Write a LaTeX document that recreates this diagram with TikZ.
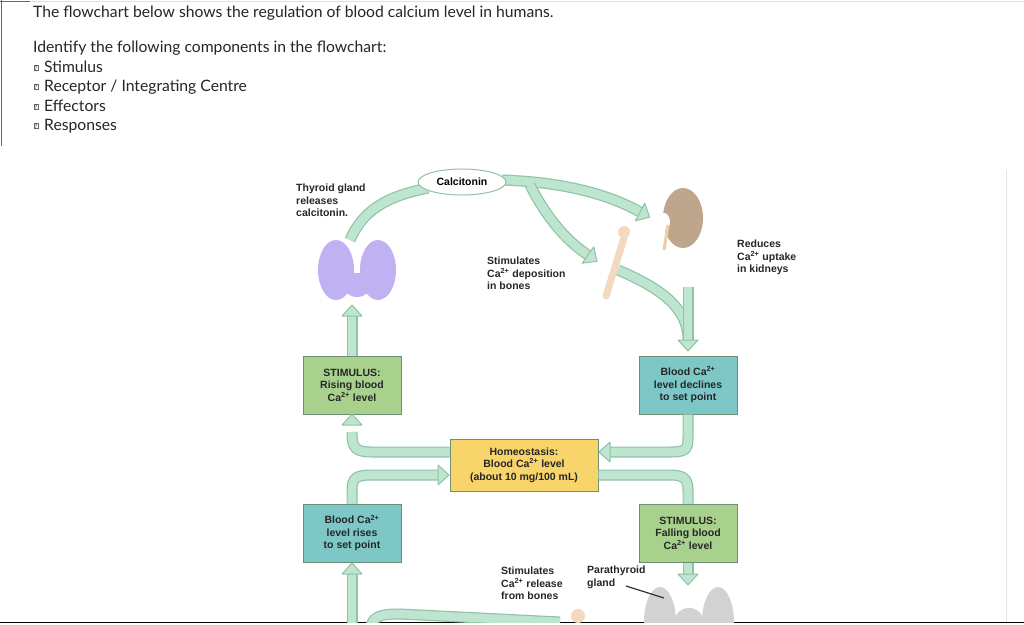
\documentclass[tikz,border=0pt]{standalone}
\usepackage{fontspec}
\setmainfont{Lato}
\newfontfamily\lab{Liberation Sans}
\usetikzlibrary{shapes.geometric}
\begin{document}
\begin{tikzpicture}[x=1pt,y=-1pt,
  shaft/.style={draw=ashaft,line width=11pt,line cap=butt,line join=round,
    postaction={draw=afill,line width=8.6pt}},
  tipp/.pic={\fill[afill,draw=ashaft,line width=1pt,line join=round] (0,-10)--(11,0)--(0,10)--cycle;},
  box/.style={draw=boxedge,line width=1pt,minimum width=98pt,minimum height=58pt,align=center,
    font=\lab\bfseries\fontsize{10.5}{12.5}\selectfont,text=black!85},
  lbl/.style={font=\lab\bfseries\fontsize{10.5}{12.5}\selectfont,align=left,anchor=north west,text=black!85,inner sep=0pt},
  qt/.style={font=\fontsize{15.7}{18}\selectfont,anchor=north west,inner sep=0pt,text=black!85}]
\definecolor{ashaft}{HTML}{8FC3A4}
\definecolor{afill}{HTML}{BDE5CF}
\definecolor{boxedge}{HTML}{6E8E76}
\definecolor{gbox}{HTML}{A9D18E}
\definecolor{tbox}{HTML}{7DC8C6}
\definecolor{ybox}{HTML}{F8D56B}
\newcommand{\sq}{\textsuperscript{2+}}
\useasboundingbox (0,0) rectangle (1024,624);
\fill[white] (0,0) rectangle (1024,624);
% frame lines
\draw[black!60,line width=1pt] (1.5,0)--(1.5,146);
\draw[black!60,line width=1pt] (0,1)--(30,1);
\draw[black!12,line width=0.8pt] (30,1)--(1024,1);
\draw[black!10,line width=0.8pt] (1006,170)--(1006,622);
\draw[black,line width=1.5pt] (0,622.5)--(1024,622.5);
% question text
\node[qt] (q1) at (33,6) {The flowchart below shows the regulation of blood calcium level in humans.};
\node[qt] (q2) at (33,41) {Identify the following components in the flowchart:};
\foreach \t/\y [count=\i] in {{Stimulus}/61,{Receptor / Integrating Centre}/80,{Effectors}/100,{Responses}/119}{
  \node[qt,draw=black!60,line width=0.4pt,inner sep=0.5pt,font=\fontsize{6}{6}\selectfont] (b\i) at (34,\y+4) {?};
  \node[qt] (i\i) at (44,\y) {\t};
}
\begin{scope}
\clip (280,160) rectangle (1000,622);
% boxes
\node[box,fill=gbox] (rise) at (352,385) {STIMULUS:\\Rising blood\\Ca\sq{} level};
\node[box,fill=tbox] (decl) at (688,385) {Blood Ca\sq\\level declines\\to set point};
\node[box,fill=ybox,minimum width=148pt,minimum height=52pt] (home) at (524,465) {Homeostasis:\\Blood Ca\sq{} level\\(about 10 mg/100 mL)};
\node[box,fill=gbox] (fall) at (688,533) {STIMULUS:\\Falling blood\\Ca\sq{} level};
\node[box,fill=tbox] (rises) at (352,533) {Blood Ca\sq\\level rises\\to set point};
% arrows
\draw[shaft] (rise.north) -- (352,316);
\pic[rotate=90] at (352,316) {tipp};
\draw[shaft] (350,240) .. controls (365,205) and (395,195) .. (428,188);
\draw[shaft] (502,180) .. controls (565,182) and (610,195) .. (640,212);
\pic[rotate=-28] at (640,212) {tipp};
\draw[shaft] (530,185) .. controls (545,215) and (565,240) .. (588,255);
\pic[rotate=-35] at (588,255) {tipp};
\draw[shaft] (618,270) .. controls (665,290) and (688,310) .. (688,340);
\draw[shaft] (688,287) -- (688,340);
\pic[rotate=-90] at (688,340) {tipp};
\draw[shaft] (decl.south) -- (688,438) .. controls (688,450) and (685,452) .. (670,452) -- (610,452);
\pic[rotate=180] at (610,452) {tipp};
\draw[shaft] (home.west|-0,452) -- (372,452) .. controls (355,452) and (352,448) .. (352,432);
\pic[rotate=90] at (352,425) {tipp};
\draw[shaft] (rises.north) -- (352,490) .. controls (352,478) and (356,475) .. (372,475) -- (438,475);
\pic at (438,475) {tipp};
\draw[shaft] (home.east|-0,475) -- (670,475) .. controls (685,475) and (688,480) .. (688,490) -- (fall.north);
\draw[shaft] (fall.south) -- (688,574);
\pic[rotate=-90] at (688,574) {tipp};
\draw[shaft] (352,630) -- (352,574);
\pic[rotate=90] at (352,574) {tipp};
\draw[shaft] (370,630) .. controls (372,616) and (380,614) .. (400,614) -- (560,622);
% calcitonin
\node[draw=ashaft,fill=white,ellipse,line width=1pt,minimum width=88pt,minimum height=26pt,font=\lab\bfseries\fontsize{10.5}{12}\selectfont] (calc) at (462,182) {Calcitonin};
% thyroid
\begin{scope}[fill=violet!35!blue!30]
\fill (336,270) ellipse (18 and 30);
\fill (378,270) ellipse (18 and 30);
\fill (357,285) ellipse (14 and 12);
\end{scope}
% bone
\draw[line width=7pt,line cap=round,color=orange!30!brown!30] (606,296)--(624,238);
\fill[orange!30!brown!30] (624,232) circle (6);
% kidney
\fill[brown!55!gray!70] (683,218) ellipse (20 and 30);
\fill[white] (664,222) ellipse (6 and 9);
\draw[orange!50!brown!40,line width=3pt] (668,225)--(664,250);
% parathyroid
\fill[gray!35] (660,622) ellipse (16 and 35);
\fill[gray!35] (718,622) ellipse (16 and 35);
\fill[gray!35] (689,620) ellipse (14 and 12);
\fill[orange!30!brown!30] (578,616) circle (7);
% labels
\node[lbl] (thy) at (296,184) {Thyroid gland\\releases\\calcitonin.};
\node[lbl] (st1) at (487,257) {Stimulates\\Ca\sq{} deposition\\in bones};
\node[lbl] (red) at (737,240) {Reduces\\Ca\sq{} uptake\\in kidneys};
\node[lbl] (st2) at (501,567) {Stimulates\\Ca\sq{} release\\from bones};
\node[lbl] (par) at (587,566) {Parathyroid\\gland};
\coordinate (pg) at (664,598);
\draw[line width=1.2pt,black!80] (626,586)--(pg);
\end{scope}
\end{tikzpicture}
\end{document}
